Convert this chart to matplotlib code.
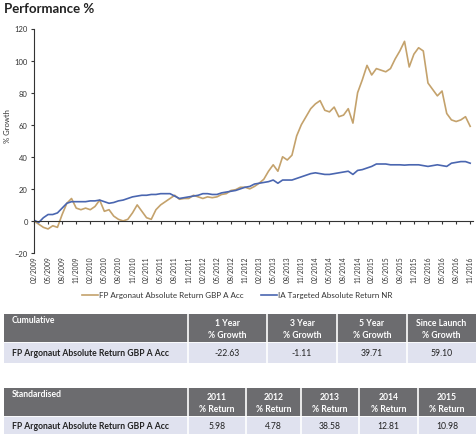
import matplotlib
matplotlib.use("Agg")
import matplotlib.pyplot as plt
import pandas as pd
from matplotlib.patches import Rectangle

plt.rcParams["font.family"] = ["Lato", "DejaVu Sans"]

# Monthly values, Feb 2009 .. Nov 2016
fund = [0, -2, -4, -5, -3, -4, 4, 11, 14, 8, 7, 8, 7, 9, 13, 6, 7, 3, 1, 0,
        1, 5, 10, 6, 2, 1, 7, 10, 12, 14, 16, 13.5, 14, 14, 16, 15, 14, 15, 14.5, 15,
        16.5, 17, 19, 19.5, 21, 21, 20, 21.5, 23.5, 26, 31, 35, 31, 40, 38, 41, 53, 60, 65, 70,
        73, 75, 69, 68, 71, 65, 66, 70, 61, 80, 88, 97, 91, 95, 94, 93, 95, 101, 106, 112,
        96, 104, 108, 106, 86, 82, 78, 81, 67, 63, 62, 63, 65, 59]
sector = [0.5, -1, 2, 4, 4, 5, 8, 11, 12, 12, 12, 12, 12.5, 12.5, 13, 12, 11, 11.5, 12.5, 13,
          14, 15, 15.5, 16, 16, 16.5, 16.5, 17, 17, 17, 15.5, 14, 14.5, 15, 15.5, 16, 17, 17, 16.5, 16.5,
          17.5, 18, 18.5, 19, 20, 21, 21.5, 23, 23.5, 24, 24.5, 25.5, 23.5, 25.5, 25.5, 25.5, 26.5, 27.5, 28.5, 29.5,
          30, 29.5, 29, 29, 29.5, 30, 30.5, 31, 29, 31.5, 32, 33, 34, 35.5, 35.5, 35.5, 35, 35, 35, 34.8,
          35, 35, 35, 34.5, 34, 34.5, 35, 34.5, 34, 36, 36.5, 37, 37, 36]
dates = pd.date_range("2009-02-01", periods=len(fund), freq="MS")
fund_name = "FP Argonaut Absolute Return GBP A Acc"
sector_name = "IA Targeted Absolute Return NR"

cum_headers = ["1 Year\n% Growth", "3 Year\n% Growth", "5 Year\n% Growth", "Since Launch\n% Growth"]
cum_values = ["-22.63", "-1.11", "39.71", "59.10"]
std_headers = ["2011\n% Return", "2012\n% Return", "2013\n% Return", "2014\n% Return", "2015\n% Return"]
std_values = ["5.98", "4.78", "38.58", "12.81", "10.98"]

gold = "#C4A26C"
blue = "#4A66B0"
W, H = 476, 435

fig = plt.figure(figsize=(W / 100, H / 100), dpi=100)
fig.text(4 / W, 1 - 9 / H, "Performance %", fontsize=9.5, fontweight="bold",
         color="#222222", va="center", ha="left")

ax = fig.add_axes([34 / W, 1 - 254 / H, 439 / W, 224.5 / H])
x = range(len(fund))
ax.plot(x, fund, color=gold, lw=1.2, label=fund_name)
ax.plot(x, sector, color=blue, lw=1.2, label=sector_name)

ax.set_xlim(0, 93.6)
ax.set_ylim(-20, 120)
ax.set_yticks(range(-20, 121, 20))
ax.set_xticks(range(0, len(fund), 3))
ax.set_xticklabels([d.strftime("%m/%Y") for d in dates[::3]])
for s in ["top", "right"]:
    ax.spines[s].set_visible(False)
ax.spines["bottom"].set_position(("data", 0))
ax.spines["bottom"].set_color("#333333")
ax.spines["left"].set_color("#333333")
ax.tick_params(axis="y", length=2.5, width=0.8, labelsize=5.5, pad=2, colors="#333333")
ax.tick_params(axis="x", length=2.5, width=0.8, labelsize=4.9, pad=22.5, colors="#333333",
               labelrotation=90)
for lab in ax.get_xticklabels():
    lab.set_va("top")
fig.text(7 / W, 1 - 126 / H, "% Growth", rotation=90, fontsize=5.5,
         color="#333333", ha="center", va="center")

fig.legend(loc="center", bbox_to_anchor=(237 / W, 1 - 296 / H), ncol=2, frameon=False,
           fontsize=5.8, handlelength=2.0, handletextpad=0.1, columnspacing=2.2,
           labelcolor="#333333", borderpad=0.1)

# tables drawn on an overlay in pixel coordinates
ov = fig.add_axes([0, 0, 1, 1], zorder=-1)
ov.set_xlim(0, W)
ov.set_ylim(H, 0)
ov.axis("off")

header_bg = "#6C6C6F"
row_bg = "#E0E2EF"


def draw_table(top, mid, bottom, edges, title, headers, values):
    ov.add_patch(Rectangle((4, top), W - 4, mid - top, color=header_bg, lw=0))
    ov.add_patch(Rectangle((4, mid), W - 4, bottom - mid, color=row_bg, lw=0))
    for e in edges[1:-1]:
        ov.plot([e, e], [top, bottom], color="white", lw=1.2)
    ov.plot([4, W], [mid, mid], color="white", lw=0.6)
    ov.text(12, top + 6, title, color="white", fontsize=6.2, fontweight="bold",
            ha="left", va="center")
    ov.text(12, (mid + bottom) / 2, fund_name, color="#222222", fontsize=6.2,
            fontweight="bold", ha="left", va="center")
    for i, (h, v) in enumerate(zip(headers, values)):
        cx = (edges[i + 1] + edges[i + 2]) / 2
        ov.text(cx, (top + mid) / 2 + 0.5, h, color="white", fontsize=6.2, fontweight="bold",
                ha="center", va="center", linespacing=1.35)
        ov.text(cx, (mid + bottom) / 2, v, color="#222222", fontsize=6.2,
                ha="center", va="center")


draw_table(315, 343, 364, [4, 188, 267, 337, 407, W], "Cumulative", cum_headers, cum_values)
draw_table(389, 417, 437, [4, 188, 246, 301, 359, 418, W], "Standardised", std_headers, std_values)

fig.savefig("out.png", dpi=100)
